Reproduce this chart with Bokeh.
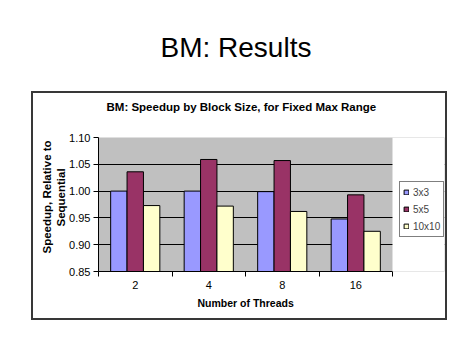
from bokeh.plotting import figure
from bokeh.models import (ColumnDataSource, FixedTicker, Title, BoxAnnotation,
                          Legend, LegendItem, Range1d)
from bokeh.embed import file_html
from bokeh.resources import INLINE

threads = ["2", "4", "8", "16"]
series_names = ["3x3", "5x5", "10x10"]
s3x3 = [1.000, 1.000, 0.999, 0.948]
s5x5 = [1.036, 1.059, 1.057, 0.993]
s10x10 = [0.973, 0.972, 0.962, 0.925]
colors = ["#9999FF", "#993366", "#FFFFCC"]
y_ticks = [0.85, 0.90, 0.95, 1.00, 1.05, 1.10]

FONT = "Liberation Sans"
W, H = 474, 355
FL, FR, FT, FB = 98, 444, 137, 271   # frame edges (frame also holds the legend zone)
PLOT_R = 392                          # right edge of the grey plot area
n = len(threads)
x_end = n * (FR - FL) / (PLOT_R - FL)

# outer chart box drawn as the page background behind a transparent canvas
box_col = "#383838"
box_bg = ", ".join([
    f"linear-gradient({box_col},{box_col}) 31px 91px / 416px 2px no-repeat",
    f"linear-gradient({box_col},{box_col}) 31px 318px / 416px 2px no-repeat",
    f"linear-gradient({box_col},{box_col}) 31px 91px / 2px 229px no-repeat",
    f"linear-gradient({box_col},{box_col}) 445px 91px / 2px 229px no-repeat",
    "white",
])

p = figure(width=W, height=H, output_backend="svg", toolbar_location=None,
           x_range=Range1d(0, x_end), y_range=Range1d(0.85, 1.10),
           min_border_left=FL, min_border_right=W - FR,
           min_border_top=FT, min_border_bottom=H - FB, title=None,
           styles={"background": box_bg})
p.background_fill_color = "#C0C0C0"
p.border_fill_alpha = 0
p.outline_line_color = None

centers = [i + 0.5 for i in range(n)]
bw = 0.223
items = []
for k, (name, vals, col) in enumerate(zip(series_names, [s3x3, s5x5, s10x10], colors)):
    xs = [c + (k - 1) * bw for c in centers]
    src = ColumnDataSource(dict(x=xs, top=vals))
    r = p.vbar(x="x", top="top", bottom=0.85, width=bw, source=src,
               fill_color=col, line_color="black", line_width=1)
    items.append(LegendItem(label=name, renderers=[r]))

# white zone right of the grey plot area (legend zone)
p.add_layout(BoxAnnotation(left=n, fill_color="white", fill_alpha=1,
                           line_color=None, level="annotation"))

# axes
xa = p.xaxis[0]
xa.bounds = (0, n)
xa.ticker = FixedTicker(ticks=centers, minor_ticks=list(range(n + 1)))
xa.major_label_overrides = {c: t for c, t in zip(centers, threads)}
xa.major_tick_line_color = None
xa.minor_tick_line_color = "black"
xa.minor_tick_in = 0
xa.minor_tick_out = 5
xa.axis_line_color = "black"
xa.major_label_text_font = FONT
xa.major_label_text_font_size = "11px"
xa.major_label_text_color = "black"
xa.major_label_standoff = 3

ya = p.yaxis[0]
ya.ticker = FixedTicker(ticks=y_ticks, minor_ticks=[])
ya.major_label_overrides = {v: f"{v:.2f}" for v in y_ticks}
ya.major_tick_in = 0
ya.major_tick_out = 5
ya.major_tick_line_color = "black"
ya.axis_line_color = "black"
ya.major_label_text_font = FONT
ya.major_label_text_font_size = "11px"
ya.major_label_text_color = "black"
ya.major_label_standoff = 3

p.xgrid.grid_line_color = None
p.ygrid.ticker = FixedTicker(ticks=y_ticks)
p.ygrid.grid_line_color = "black"
p.ygrid.grid_line_width = 1

# axis titles (placed as panel titles so they can be centred on the grey area)
p.add_layout(Title(text="Number of Threads", text_font=FONT, text_font_size="10.5px",
                   text_font_style="bold", align="left", offset=99, standoff=6,
                   text_color="black"), "below")
p.add_layout(Title(text="Sequential", text_font=FONT, text_font_size="11.5px",
                   text_font_style="bold", align="left", offset=45, standoff=0,
                   text_color="black"), "left")
p.add_layout(Title(text="Speedup, Relative to", text_font=FONT, text_font_size="11.5px",
                   text_font_style="bold", align="left", offset=18, standoff=0,
                   text_color="black"), "left")

p.add_layout(Title(text="BM: Speedup by Block Size, for Fixed Max Range",
                   text_font=FONT, text_font_size="11.5px", text_font_style="bold",
                   align="left", offset=8, standoff=50, text_color="black"), "above")
p.add_layout(Title(text="BM: Results", text_font=FONT, text_font_size="28px",
                   text_font_style="normal", align="left", offset=62, standoff=21,
                   text_color="black"), "above")

legend = Legend(items=items, location=(399 - FL, FB - 237),
                label_text_font=FONT, label_text_font_size="10px",
                glyph_width=6, glyph_height=6, label_height=14,
                spacing=3, padding=3, margin=0, label_standoff=4,
                border_line_color="black", background_fill_color="white",
                background_fill_alpha=1)
p.add_layout(legend, "center")

open("out.html", "w").write(file_html(p, INLINE))
